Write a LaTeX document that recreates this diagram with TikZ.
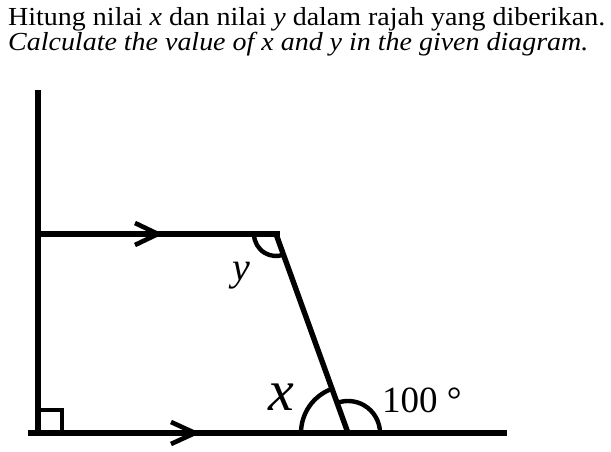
\documentclass[tikz,border=0pt]{standalone}
\usepackage{fontspec}
\setmainfont{Liberation Serif}
\usepackage{graphicx}
\begin{document}
\begin{tikzpicture}[x=1pt,y=1pt,
  geo/.style={line width=5.4pt},
  chev/.style={line width=4.6pt,line join=miter,line cap=butt},
  angarc/.style={line width=4.4pt},
  lbl/.style={inner sep=0pt,anchor=base}]
\useasboundingbox (0,0) rectangle (611,451);
% title
\node[inner sep=0pt,anchor=base west] (t1) at (8,425)
  {\resizebox{597pt}{\height}{\fontsize{26}{28}\selectfont Hitung nilai \textit{x} dan nilai \textit{y} dalam rajah yang diberikan.}};
\node[inner sep=0pt,anchor=base west] (t2) at (8,400)
  {\resizebox{580pt}{\height}{\fontsize{26}{28}\selectfont\itshape Calculate the value of x and y in the given diagram.}};
% points
\coordinate (vtop) at (38,361);
\coordinate (vbot) at (38,18);
\coordinate (tl) at (35,217);
\coordinate (tr) at (280,217);
\coordinate (T) at (276,217);
\coordinate (B) at (348,18);
\coordinate (bl) at (28,18);
\coordinate (br) at (507,18);
% lines
\draw[geo] (vtop) -- (vbot);
\draw[geo] (tl) -- (tr);
\draw[geo] (T) -- (B);
\draw[geo] (bl) -- (br);
% right angle
\coordinate (sq1) at (38,41);
\coordinate (sq2) at (62,41);
\coordinate (sq3) at (62,18);
\draw[line width=4.6pt] (sq1) -- (sq2) -- (sq3);
% parallel arrows
\coordinate (a1) at (135,228);
\coordinate (a2) at (158,217);
\coordinate (a3) at (135,206);
\draw[chev] (a1) -- (a2) -- (a3);
\coordinate (b1) at (171,29);
\coordinate (b2) at (195,18);
\coordinate (b3) at (171,7);
\draw[chev] (b1) -- (b2) -- (b3);
% angle arcs
\draw[angarc] ([shift={(180:22)}]T) arc[start angle=180,end angle=289.9,radius=22];
\draw[angarc] ([shift={(109.9:47)}]B) arc[start angle=109.9,end angle=180,radius=47];
\draw[angarc] ([shift={(0:32)}]B) arc[start angle=0,end angle=109.9,radius=32];
% labels
\node[lbl] (ly) at (241,171) {\fontsize{40}{44}\selectfont\itshape y};
\node[lbl] (lx) at (281,41) {\fontsize{58}{60}\selectfont\itshape x};
\node[lbl,anchor=base west] (l100) at (382,39) {\fontsize{37}{40}\selectfont 100 °};
\end{tikzpicture}
\end{document}
